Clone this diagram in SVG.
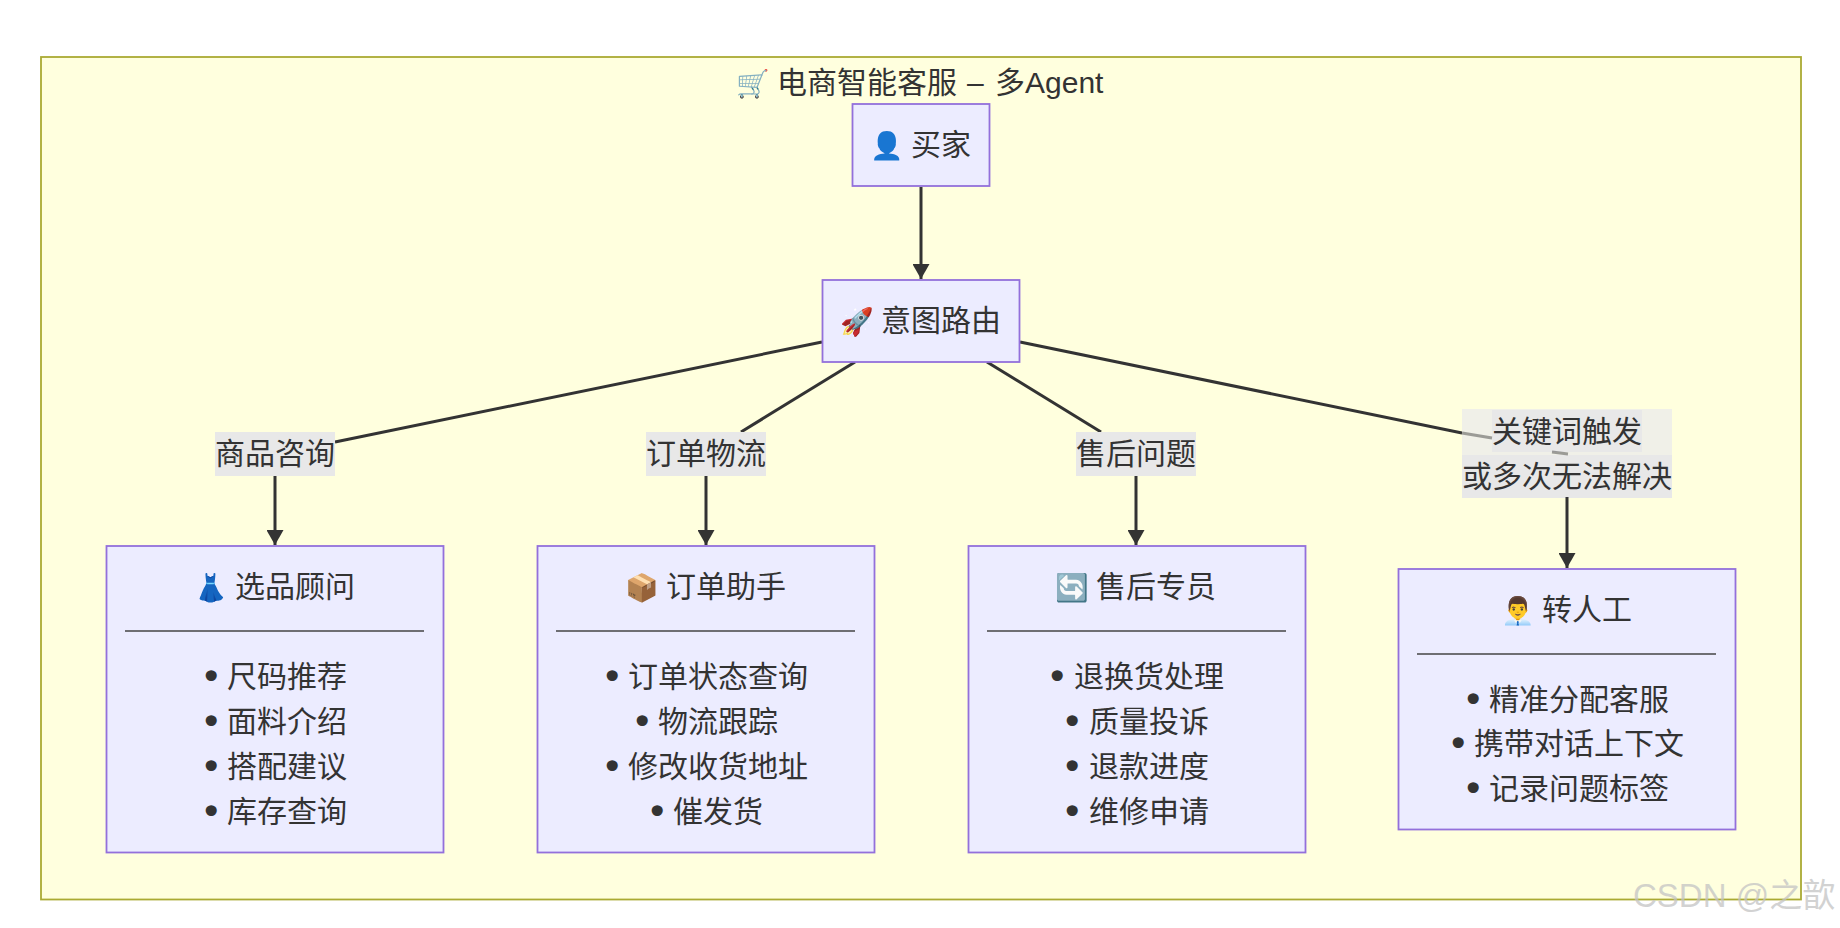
<svg xmlns="http://www.w3.org/2000/svg" width="1840" height="928" viewBox="0 0 1840 928">
<style>
text{font-family:"Liberation Sans","Noto Sans CJK SC",sans-serif;font-size:30px;fill:#333}
.c{text-anchor:middle}
.em{font-size:27px}
.b{font-family:"DejaVu Sans",sans-serif;font-size:38px}
.n{fill:#ececff;stroke:#9370db;stroke-width:1.8}
.e{fill:none;stroke:#333;stroke-width:3}
.f{fill:none;stroke:#333;stroke-width:3;stroke-opacity:.45}
.lb{fill:#e8e8e8}
.lc{fill:#f0f0e8}
.d{stroke:#444;stroke-width:1.5}
</style>
<defs><marker id="ah" markerWidth="15" markerHeight="17" refX="15" refY="8.5" orient="auto" markerUnits="userSpaceOnUse"><path d="M0 0L15 8.5L0 17z" fill="#333"/></marker></defs>
<rect x="41" y="57" width="1760" height="842.5" fill="#ffffde" stroke="#aaaa33" stroke-width="1.8"/>
<text y="93"><tspan class="em" x="736">🛒 </tspan><tspan x="777">电商智能客服 </tspan><tspan x="967">– </tspan><tspan x="995">多Agent</tspan></text>
<g id="connectors">
<path class="e" marker-end="url(#ah)" d="M921 187V279"/>
<path class="e" d="M822 342L335 442"/>
<path class="e" marker-end="url(#ah)" d="M275 475V545"/>
<path class="e" d="M855 362L741 432"/>
<path class="e" marker-end="url(#ah)" d="M706 475V545"/>
<path class="e" d="M987 362L1101 432"/>
<path class="e" marker-end="url(#ah)" d="M1136 475V545"/>
<path class="e" d="M1020 342L1462 433"/>
<rect class="lb" x="215" y="432" width="120" height="44"/><text class="c" x="275" y="464">商品咨询</text>
<rect class="lb" x="646" y="432" width="120" height="44"/><text class="c" x="706" y="464">订单物流</text>
<rect class="lb" x="1076" y="432" width="120" height="44"/><text class="c" x="1136" y="464">售后问题</text>
<rect class="lc" x="1462" y="409" width="210" height="46"/>
<rect class="lb" x="1492" y="410" width="150" height="42"/>
<rect class="lb" x="1462" y="455" width="210" height="43"/>
<path class="f" d="M1462 433L1492 438M1552 452L1568 454"/>
<text class="c" x="1567" y="442">关键词触发</text><text class="c" x="1567" y="487">或多次无法解决</text>
<path class="e" marker-end="url(#ah)" d="M1567 497V568"/>
</g>
<g id="buyer"><rect class="n" x="852.5" y="104" width="137" height="82"/><text y="155"><tspan class="em" x="870">👤 </tspan><tspan x="911">买家</tspan></text></g>
<g id="router"><rect class="n" x="822.5" y="280" width="197" height="82"/><text y="331"><tspan class="em" x="840">🚀 </tspan><tspan x="881">意图路由</tspan></text></g>
<g id="n1"><rect class="n" x="106.5" y="546" width="337" height="306.5"/><text y="597"><tspan class="em" x="194">👗 </tspan><tspan x="235">选品顾问</tspan></text><line class="d" x1="125" x2="424" y1="631" y2="631"/>
<text y="687"><tspan class="b" x="200" dy="3">•</tspan><tspan x="227" dy="-3">尺码推荐</tspan></text>
<text y="732"><tspan class="b" x="200" dy="3">•</tspan><tspan x="227" dy="-3">面料介绍</tspan></text>
<text y="777"><tspan class="b" x="200" dy="3">•</tspan><tspan x="227" dy="-3">搭配建议</tspan></text>
<text y="822"><tspan class="b" x="200" dy="3">•</tspan><tspan x="227" dy="-3">库存查询</tspan></text></g>
<g id="n2"><rect class="n" x="537.5" y="546" width="337" height="306.5"/><text y="597"><tspan class="em" x="625">📦 </tspan><tspan x="666">订单助手</tspan></text><line class="d" x1="556" x2="855" y1="631" y2="631"/>
<text y="687"><tspan class="b" x="601" dy="3">•</tspan><tspan x="628" dy="-3">订单状态查询</tspan></text>
<text y="732"><tspan class="b" x="631" dy="3">•</tspan><tspan x="658" dy="-3">物流跟踪</tspan></text>
<text y="777"><tspan class="b" x="601" dy="3">•</tspan><tspan x="628" dy="-3">修改收货地址</tspan></text>
<text y="822"><tspan class="b" x="646" dy="3">•</tspan><tspan x="673" dy="-3">催发货</tspan></text></g>
<g id="n3"><rect class="n" x="968.5" y="546" width="337" height="306.5"/><text y="597"><tspan class="em" x="1055">🔄 </tspan><tspan x="1096">售后专员</tspan></text><line class="d" x1="987" x2="1286" y1="631" y2="631"/>
<text y="687"><tspan class="b" x="1046" dy="3">•</tspan><tspan x="1074" dy="-3">退换货处理</tspan></text>
<text y="732"><tspan class="b" x="1061" dy="3">•</tspan><tspan x="1089" dy="-3">质量投诉</tspan></text>
<text y="777"><tspan class="b" x="1061" dy="3">•</tspan><tspan x="1089" dy="-3">退款进度</tspan></text>
<text y="822"><tspan class="b" x="1061" dy="3">•</tspan><tspan x="1089" dy="-3">维修申请</tspan></text></g>
<g id="n4"><rect class="n" x="1398.5" y="569" width="337" height="260.5"/><text y="620"><tspan class="em" x="1501">👨‍💼 </tspan><tspan x="1542">转人工</tspan></text><line class="d" x1="1417" x2="1716" y1="654" y2="654"/>
<text y="710"><tspan class="b" x="1462" dy="3">•</tspan><tspan x="1489" dy="-3">精准分配客服</tspan></text>
<text y="754"><tspan class="b" x="1447" dy="3">•</tspan><tspan x="1474" dy="-3">携带对话上下文</tspan></text>
<text y="799"><tspan class="b" x="1462" dy="3">•</tspan><tspan x="1489" dy="-3">记录问题标签</tspan></text></g>
<text x="1633" y="907" style="font-size:33px;fill:#c4c4c4;fill-opacity:.75">CSDN @之歆</text>
</svg>
